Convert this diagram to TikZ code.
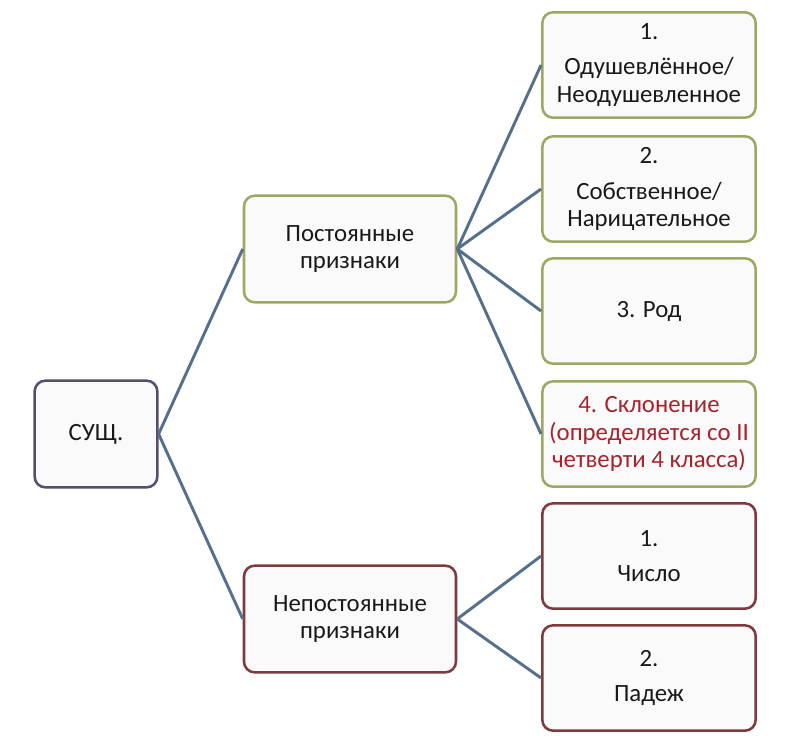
\documentclass[tikz,border=0pt]{standalone}
\usepackage{fontspec}
\setmainfont{Carlito}
\definecolor{linkblue}{RGB}{84,112,140}
\definecolor{olivebd}{RGB}{158,168,98}
\definecolor{maroonbd}{RGB}{128,58,62}
\definecolor{purplebd}{RGB}{84,78,112}
\definecolor{redtext}{RGB}{168,34,46}

\begin{document}
\begin{tikzpicture}[x=0.75pt, y=-0.75pt,
    box/.style={draw, line width=1.9pt, rounded corners=8pt, fill=white!96!gray,
        align=center, text=black!90, font=\fontsize{18.6}{20.3}\selectfont, inner sep=1pt},
    rootbox/.style={box, draw=purplebd, minimum width=92pt, minimum height=80pt},
    midgreen/.style={box, draw=olivebd, minimum width=159pt, minimum height=80pt},
    midred/.style={box, draw=maroonbd, minimum width=159pt, minimum height=80pt},
    leafgreen/.style={box, draw=olivebd, minimum width=160pt, minimum height=79pt},
    leafred/.style={box, draw=maroonbd, minimum width=160pt, minimum height=79pt},
    link/.style={draw=linkblue, line width=2.2pt}]
    \useasboundingbox (0,0) rectangle (786,754);

    % --- root ---
    \node[rootbox] (noun) at (96,434) {СУЩ.};

    % --- middle level ---
    \node[midgreen] (const) at (350,249) {Постоянные\\признаки};
    \node[midred] (var) at (350,619) {Непостоянные\\признаки};

    % --- constant features ---
    \node[leafgreen] (anim) at (649,65) {1.\\[6pt]Одушевлённое/\\Неодушевленное};
    \node[leafgreen] (proper) at (649,189) {2.\\[6pt]Собственное/\\Нарицательное};
    \node[leafgreen] (gender) at (649,311) {3. Род};
    \node[leafgreen, text=redtext] (decl) at (649,434)
        {4. Склонение\\(определяется со II\\четверти 4 класса)};

    % --- variable features ---
    \node[leafred] (number) at (649,556) {1.\\[6pt]Число};
    \node[leafred] (case) at (649,678) {2.\\[6pt]Падеж};

    % --- connectors ---
    \draw[link] (noun.east) -- (const.west);
    \draw[link] (noun.east) -- (var.west);
    \foreach \leaf in {anim, proper, gender, decl}
        \draw[link] (const.east) -- (\leaf.west);
    \foreach \leaf in {number, case}
        \draw[link] (var.east) -- (\leaf.west);

\end{tikzpicture}
\end{document}
